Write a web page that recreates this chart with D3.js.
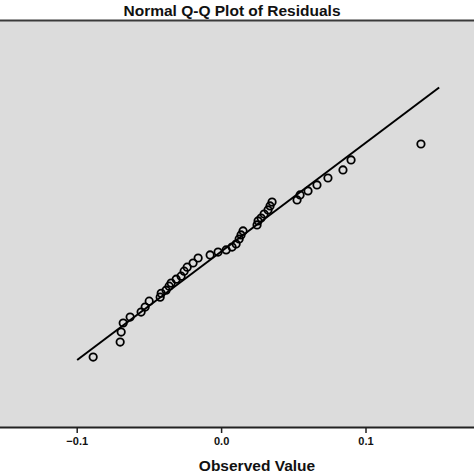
<!DOCTYPE html>
<html><head><meta charset="utf-8">
<script src="https://cdn.jsdelivr.net/npm/d3@7/dist/d3.min.js"></script>
<style>html,body{margin:0;padding:0;background:#fff;}svg{display:block;}</style>
</head><body>
<script>
const chartTitle = "Normal Q-Q Plot of Residuals";
const xAxisTitle = "Observed Value";
const xTicks = [-0.1, 0.0, 0.1];
const observed = [-0.0886,-0.0699,-0.0692,-0.0678,-0.0630,-0.0554,-0.0526,-0.0498,-0.0422,-0.0415,
  -0.0381,-0.0360,-0.0346,-0.0311,-0.0277,-0.0256,-0.0235,-0.0194,-0.0159,-0.0076,
  -0.0021,0.0035,0.0076,0.0104,0.0125,0.0138,0.0152,0.0249,0.0256,0.0277,
  0.0298,0.0325,0.0339,0.0353,0.0526,0.0547,0.0602,0.0664,0.0740,0.0844,0.0900,0.1384];
const expected = [-0.0970,-0.0832,-0.0740,-0.0657,-0.0602,-0.0556,-0.0510,-0.0456,-0.0419,-0.0383,
  -0.0355,-0.0318,-0.0290,-0.0254,-0.0226,-0.0180,-0.0143,-0.0105,-0.0059,-0.0031,
  -0.0004,0.0015,0.0042,0.0070,0.0116,0.0153,0.0190,0.0245,0.0282,0.0309,
  0.0346,0.0383,0.0420,0.0456,0.0475,0.0521,0.0558,0.0613,0.0677,0.0751,0.0843,0.0990];
const refLine = [-0.0997, 0.151];

const W = 474, H = 474;
const plotTop = 21, plotBottom = 427;
const svg = d3.select("body").append("svg").attr("width", W).attr("height", H)
  .style("font-family", "'Liberation Sans', Arial, sans-serif");
svg.append("rect").attr("width", W).attr("height", H).attr("fill", "#fff");

const x = d3.scaleLinear().domain([-0.1, 0.1]).range([76.7, 365.5]);
const y = d3.scaleLinear().domain([-0.1, 0.1]).range([360.3, 142.9]);

svg.append("rect").attr("x", 0).attr("y", plotTop).attr("width", W).attr("height", plotBottom - plotTop)
  .attr("fill", "#dcdcdc");
svg.append("line").attr("x1", 0).attr("x2", W).attr("y1", plotTop - 0.5).attr("y2", plotTop - 0.5)
  .attr("stroke", "#3a3a3a").attr("stroke-width", 2);

// reference line
svg.append("line")
  .attr("x1", x(refLine[0])).attr("y1", y(refLine[0]))
  .attr("x2", x(refLine[1])).attr("y2", y(refLine[1]))
  .attr("stroke", "#000").attr("stroke-width", 2);

// points
svg.append("g").selectAll("circle").data(observed.map((o, i) => [o, expected[i]]))
  .join("circle")
  .attr("cx", d => x(d[0])).attr("cy", d => y(d[1])).attr("r", 3.7)
  .attr("fill", "none").attr("stroke", "#000").attr("stroke-width", 1.8);

// x axis
const ax = svg.append("g").attr("transform", `translate(0,${plotBottom})`)
  .call(d3.axisBottom(x).tickValues(xTicks).tickFormat(d3.format(".1f")).tickSize(6).tickPadding(4));
ax.select(".domain").remove();
ax.append("line").attr("x1", 0).attr("x2", W).attr("y1", 0.5).attr("y2", 0.5)
  .attr("stroke", "#222").attr("stroke-width", 2);
ax.selectAll(".tick line").attr("stroke", "#222").attr("stroke-width", 1.5);
ax.selectAll(".tick text").attr("font-size", 11).attr("font-weight", "bold")
  .attr("fill", "#111").attr("font-family", "'Liberation Sans', Arial, sans-serif");

svg.append("text").attr("x", 232).attr("y", 15.5).attr("text-anchor", "middle")
  .attr("font-size", 15.5).attr("font-weight", "bold").attr("fill", "#111").text(chartTitle);
svg.append("text").attr("x", 257).attr("y", 471).attr("text-anchor", "middle")
  .attr("font-size", 15.5).attr("font-weight", "bold").attr("fill", "#111").text(xAxisTitle);
</script>
</body></html>
